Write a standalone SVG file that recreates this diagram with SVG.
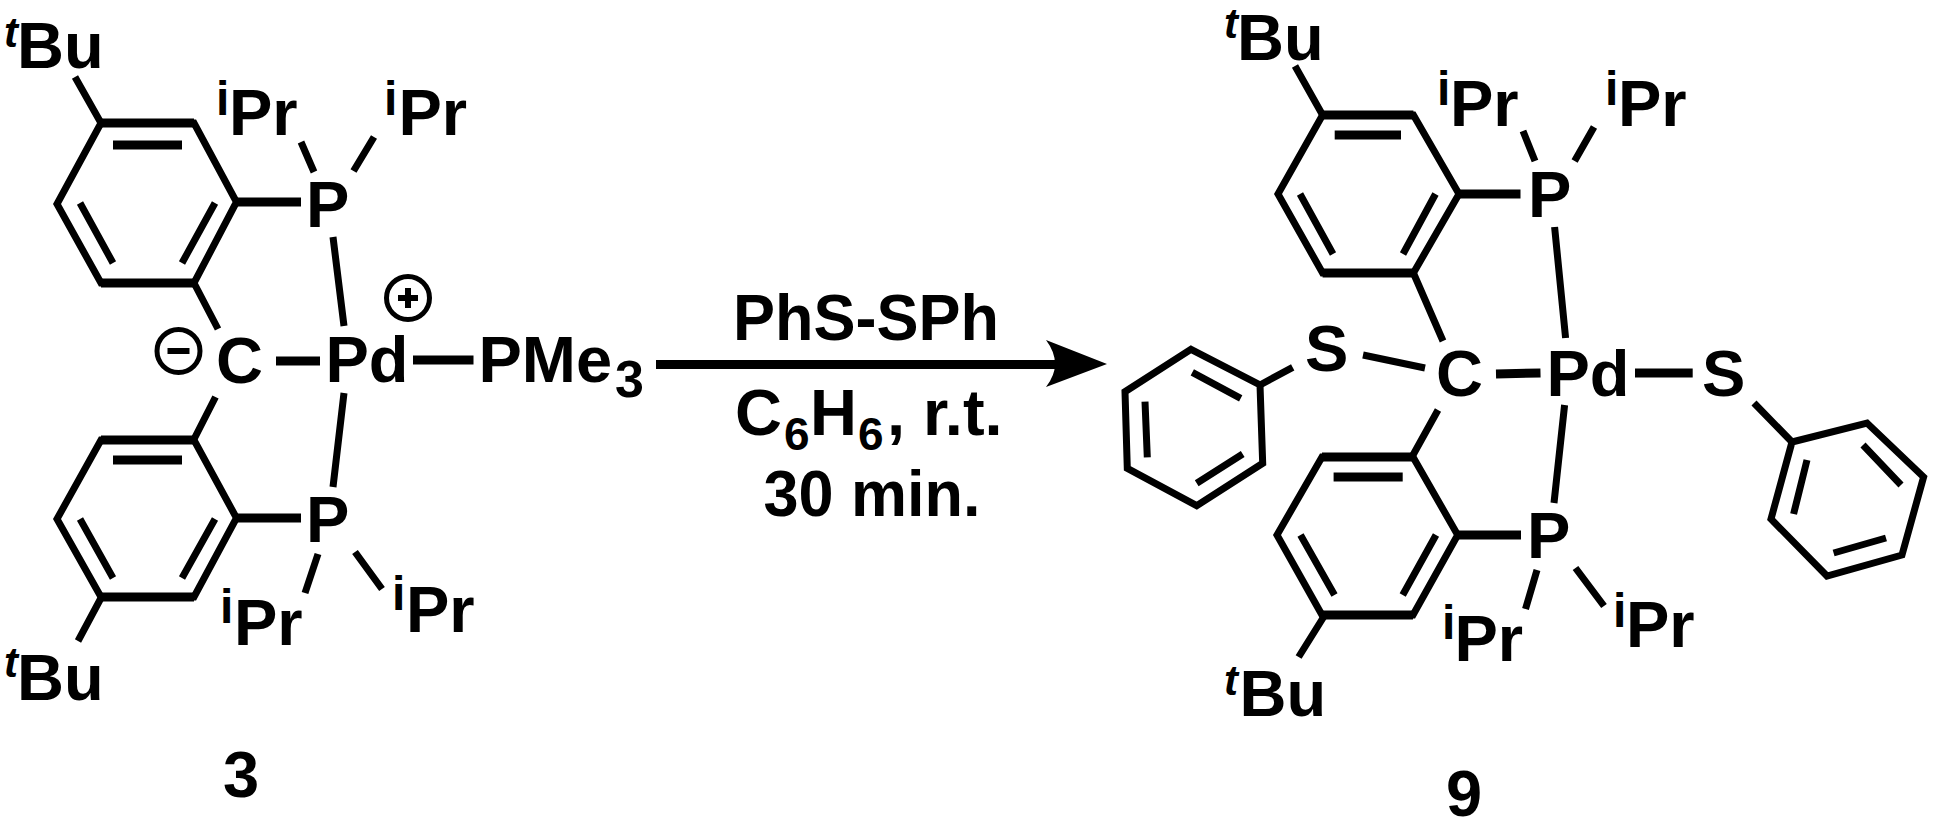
<svg xmlns="http://www.w3.org/2000/svg" width="1933" height="824" viewBox="0 0 1933 824">
<style>
text{font-family:"Liberation Sans",Arial,sans-serif;font-weight:700;fill:#000}
.a{font-size:65px}
.s{font-size:48px}
.t{font-size:42px;font-style:italic}
.n{font-size:52px}
.u{font-size:46px}
.m{text-anchor:middle}
#connectors *{fill:none;stroke:#000;stroke-width:7;stroke-linecap:butt;stroke-linejoin:miter}
#connectors .h{stroke-width:9}
.c{fill:none;stroke:#000;stroke-width:5}
.k{stroke:#000;stroke-width:6;fill:none}
</style>
<rect width="1933" height="824" fill="#fff"/>
<g id="connectors">
<!-- compound 3, upper aryl -->
<path d="M101 123L194 123L236.5 202L194 283L101 283L57 204Z"/>
<path class="h" d="M101 123H194M113 145H182M101 283H194M236.5 202H301"/>
<path d="M215 203L182 263M80 203L113 263M75 77L101 123M301 142L314 172M374 137L353.5 171M333 237L344 326M194 283L218 329"/>
<!-- compound 3, lower aryl -->
<path d="M101 440L194 440L236.5 518L194 597L101 597L57 519Z"/>
<path class="h" d="M101 440H194M113 460H182M101 597H194M236.5 518H301M276 361H320M413 360H473.5"/>
<path d="M215 519L182 578M80 519L113 578M101 598L78 641M318 554L305 593M355 552L382 589M344 393L333 487M215.5 397L193.6 440"/>
<!-- compound 9, upper aryl -->
<path d="M1322.6 115L1413.4 115L1459 194L1413.4 273L1322.6 273L1278 194Z"/>
<path class="h" d="M1322.6 115H1413.4M1334.7 135H1401M1322.6 273H1413.4M1459 194H1520.5M1496 374L1540.5 373M1635 373H1692.7"/>
<path d="M1435.5 194L1403 254M1300 194L1333 254M1295 66L1322.6 115M1523 131L1535 161M1594 127L1574.6 161M1554.6 227L1565.6 338M1413.4 273L1443 341M1363 355L1425 368"/>
<!-- compound 9, lower aryl -->
<path d="M1322 457L1413 457L1457.7 535L1413 615L1322 615L1277 535Z"/>
<path class="h" d="M1322 457H1413M1333.6 477H1402.7M1322 615H1413M1457.7 535H1521"/>
<path d="M1436 535L1402.7 595M1300.5 535L1334.5 595M1438 410L1413 455M1564.6 405L1554 503M1537 570L1525.5 609M1575.5 568L1604 606M1323.6 617L1298.6 657"/>
<!-- phenyl rings -->
<path d="M1191 349.3L1260 385L1262.7 463.3L1196.7 505.7L1127.3 468.3L1125 391.7Z"/>
<path d="M1192.3 372.3L1240.7 398.3M1145 401.7L1147.3 457.3M1196.7 483.3L1242.7 454M1260 385L1292.7 367.3"/>
<path d="M1792 442L1867 423L1923.6 477L1902 555L1827 576L1771 519Z"/>
<path d="M1863 445L1901 485M1807 460L1793.6 514M1833.6 553L1886 538M1754 403L1792 442"/>
<!-- arrow -->
<path class="h" d="M656 364.5H1062"/>
</g>
<path id="arrowhead" d="M1107 364L1046 340Q1064 364 1046 387Z" fill="#000"/>

<g id="tBu-3a"><text class="t" x="4" y="47">t</text><text class="a" x="17" y="68">Bu</text></g>
<g id="iPr-3a"><text class="s" x="216" y="115">i</text><text class="a" x="229" y="135">Pr</text></g>
<g id="iPr-3b"><text class="s" x="384" y="115">i</text><text class="a" x="398.5" y="135">Pr</text></g>
<g id="P-3a"><text class="a" x="306" y="227">P</text></g>
<g id="C-3"><text class="a" x="216" y="383">C</text></g>
<g id="Pd-3"><text class="a" x="325.5" y="382">Pd</text></g>
<g id="PMe3-3"><text class="a" x="478.5" y="382">PMe</text><text class="n" x="615" y="397">3</text></g>
<g id="plus"><circle class="c" cx="408" cy="298" r="21.5"/><path class="k" d="M398 298H418M408 288V308"/></g>
<g id="minus"><circle class="c" cx="178.5" cy="351" r="21.5"/><path class="k" d="M167.5 351H189.5"/></g>
<g id="P-3b"><text class="a" x="306" y="542">P</text></g>
<g id="iPr-3c"><text class="s" x="220" y="623">i</text><text class="a" x="234" y="645">Pr</text></g>
<g id="iPr-3d"><text class="s" x="392" y="610">i</text><text class="a" x="406" y="632">Pr</text></g>
<g id="tBu-3b"><text class="t" x="4" y="677">t</text><text class="a" x="17" y="700">Bu</text></g>
<g id="label-3"><text class="a m" x="241" y="797">3</text></g>

<g id="conditions">
<text class="a m" x="866" y="340" textLength="266" lengthAdjust="spacingAndGlyphs">PhS-SPh</text>
<text class="a" x="735" y="435">C</text><text class="u" x="784" y="450">6</text><text class="a" x="810" y="435">H</text><text class="u" x="858" y="450">6</text><text class="a" x="887" y="435">, r.t.</text>
<text class="a m" x="872" y="516" textLength="217" lengthAdjust="spacingAndGlyphs">30 min.</text>
</g>

<g id="tBu-9a"><text class="t" x="1224" y="38">t</text><text class="a" x="1237" y="60">Bu</text></g>
<g id="iPr-9a"><text class="s" x="1437" y="105">i</text><text class="a" x="1450" y="126">Pr</text></g>
<g id="iPr-9b"><text class="s" x="1605" y="105">i</text><text class="a" x="1618" y="126">Pr</text></g>
<g id="P-9a"><text class="a" x="1528" y="217">P</text></g>
<g id="S-9a"><text class="a" x="1305" y="371">S</text></g>
<g id="C-9"><text class="a" x="1436" y="396">C</text></g>
<g id="Pd-9"><text class="a" x="1546.5" y="396">Pd</text></g>
<g id="S-9b"><text class="a" x="1702" y="396">S</text></g>
<g id="P-9b"><text class="a" x="1527" y="558">P</text></g>
<g id="iPr-9c"><text class="s" x="1442" y="639">i</text><text class="a" x="1454.5" y="661">Pr</text></g>
<g id="iPr-9d"><text class="s" x="1613" y="627">i</text><text class="a" x="1626" y="647">Pr</text></g>
<g id="tBu-9b"><text class="t" x="1224" y="695">t</text><text class="a" x="1239.5" y="716">Bu</text></g>
<g id="label-9"><text class="a m" x="1464" y="816">9</text></g>
</svg>
